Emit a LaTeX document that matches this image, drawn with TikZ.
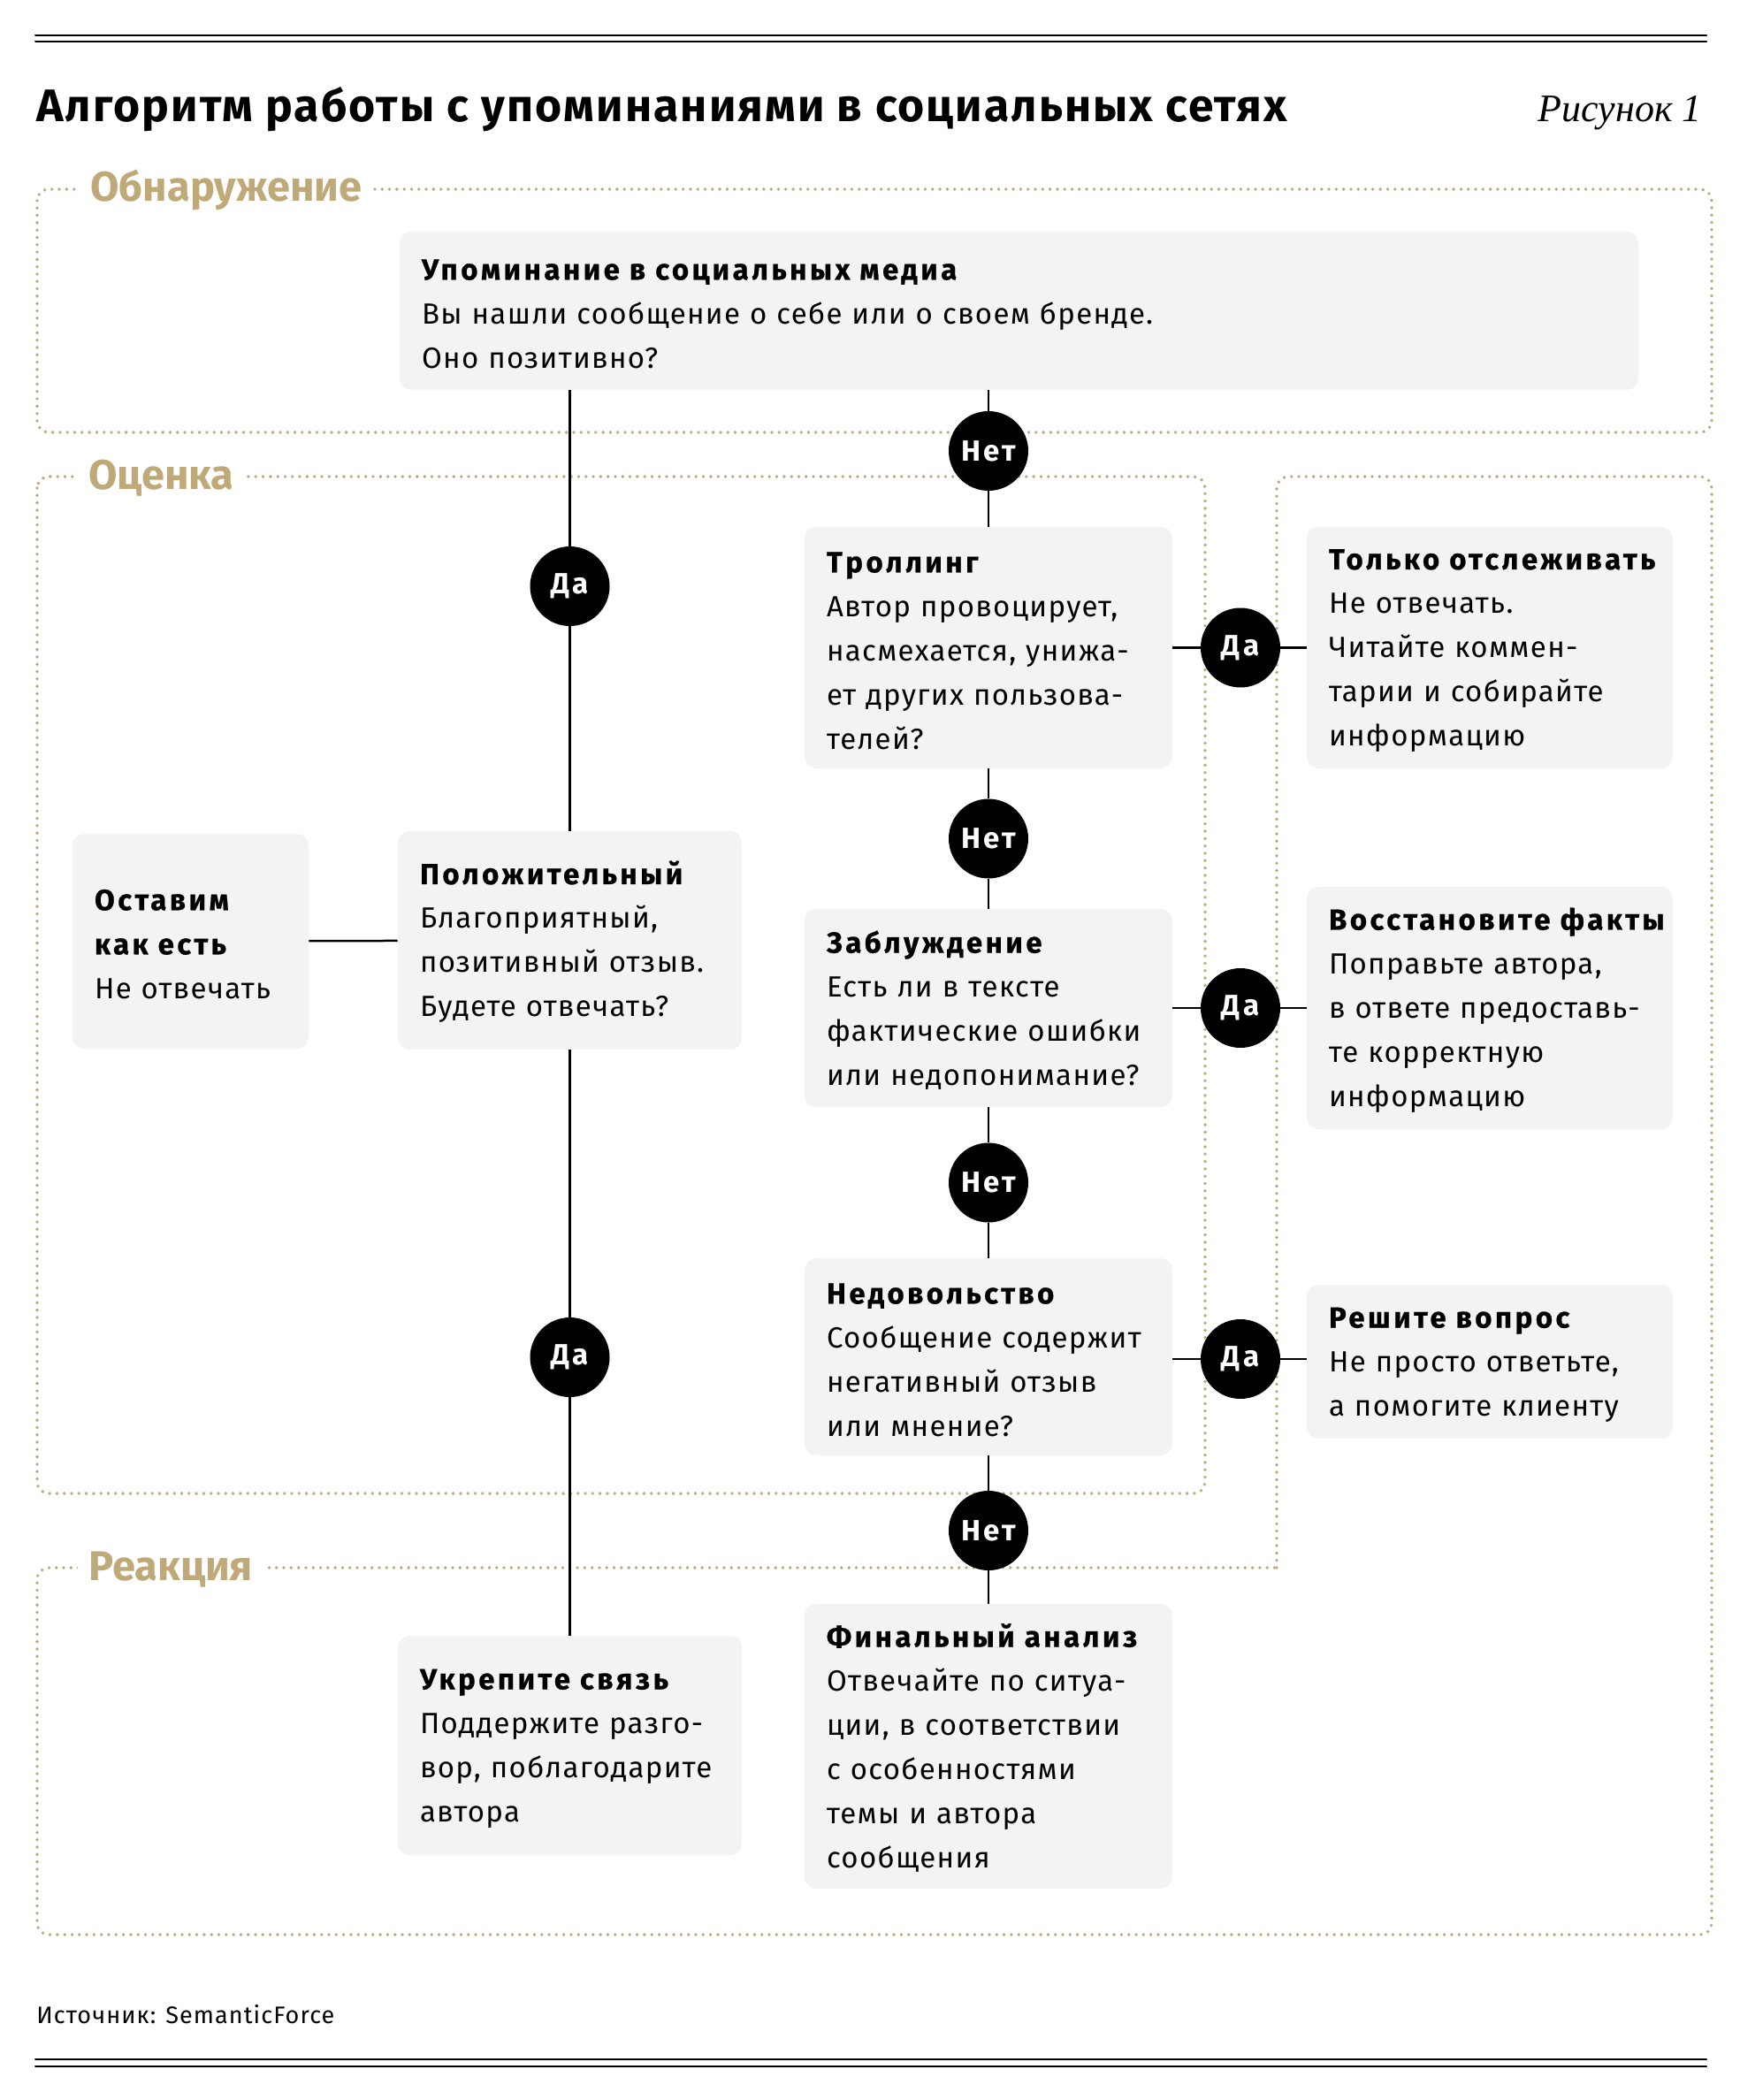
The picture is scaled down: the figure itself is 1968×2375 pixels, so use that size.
\documentclass[tikz,border=0pt]{standalone}
\usepackage{fontspec}
\setmainfont{Fira Sans}[LetterSpace=4]
\newfontfamily\figfont{Liberation Serif}
\usepackage{tikz}
\definecolor{gold}{HTML}{BFA979}
\definecolor{cardgray}{HTML}{F3F3F3}
\newcommand{\cardfont}{\fontsize{16.5pt}{25pt}\selectfont}
\newcommand{\cardhead}[1]{\mbox{\bfseries\addfontfeatures{LetterSpace=10.5,FakeBold=0.6}#1}}

\begin{document}
\begin{tikzpicture}[line cap=round,line join=round,x=0.5pt,y=-0.5pt,
	card/.style={fill=cardgray,rounded corners=6.5pt,align=left,inner xsep=12.5pt,inner ysep=0pt,text height=15pt,font=\cardfont},
	answer/.style={circle,fill=black,text=white,minimum size=45pt,inner sep=0pt,font=\cardfont\bfseries\addfontfeatures{LetterSpace=10}},
	region/.style={draw=gold,line width=1.9pt,dash pattern=on 0pt off 4.15pt,rounded corners=6.5pt},
	part/.style={fill=white,text=gold,inner xsep=6pt,inner ysep=2pt,anchor=base west,font=\fontsize{23.5pt}{28pt}\selectfont\bfseries\addfontfeatures{LetterSpace=0}},
	link/.style={line width=1.25pt,line cap=butt}]
	\useasboundingbox (0,0) rectangle (1968,2375);
	\draw[line width=1pt] (40,40) -- (1930,40);
	\draw[line width=1pt] (40,47) -- (1930,47);
	\node[anchor=base west,inner sep=0pt,font=\fontsize{25.8pt}{30pt}\selectfont\bfseries] (title) at (41,138) {Алгоритм работы с упоминаниями в социальных сетях};
	\node[anchor=base east,inner sep=0pt,font=\figfont\itshape\fontsize{22pt}{26pt}\selectfont] (fig) at (1925,138) {Рисунок 1};

	% areas
	\draw[region] (42,214) rectangle (1936,489);
	\draw[region] (42,539) rectangle (1363,1689);
	\draw[region] (1444,1773) -- (1444,539) -- (1936,539) -- (1936,2188) -- (42,2188) -- (42,1773) -- (1444,1773);
	\node[part] (detect) at (90,228) {Обнаружение};
	\node[part] (assess) at (88,553) {Оценка};
	\node[part] (react) at (88,1787) {Реакция};

	% cards
	\node[card,text width=675.5pt,minimum height=89.5pt] (mention) at (1152.5,351.5) {\cardhead{Упоминание в социальных медиа}\\Вы нашли сообщение о себе или о своем бренде.\\Оно позитивно?};
	\node[card,text width=183pt,minimum height=136.5pt] (troll) at (1118,732.5) {\cardhead{Троллинг}\\Автор провоцирует,\\насмехается, унижа-\\ет других пользова-\\телей?};
	\node[card,text width=183pt,minimum height=112pt] (confusion) at (1118,1140) {\cardhead{Заблуждение}\\Есть ли в тексте\\фактические ошибки\\или недопонимание?};
	\node[card,text width=183pt,minimum height=111.5pt] (discontent) at (1118,1534.5) {\cardhead{Недовольство}\\Сообщение содержит\\негативный отзыв\\или мнение?};
	\node[card,text width=183pt,minimum height=161pt] (final) at (1118,1975) {\cardhead{Финальный анализ}\\Отвечайте по ситуа-\\ции, в соответствии\\с особенностями\\темы и автора\\сообщения};
	\node[card,text width=169.5pt,minimum height=123.5pt] (positive) at (644.5,1063.5) {\cardhead{Положительный}\\Благоприятный,\\позитивный отзыв.\\Будете отвечать?};
	\node[card,text width=108.5pt,minimum height=121.5pt] (leave) at (215.5,1064.5) {\cardhead{Оставим}\\\cardhead{как есть}\\Не отвечать};
	\node[card,text width=169.5pt,minimum height=124pt] (strengthen) at (644.5,1974) {\cardhead{Укрепите связь}\\Поддержите разго-\\вор, поблагодарите\\автора};
	\node[card,text width=182pt,minimum height=136.5pt] (monitor) at (1685,732.5) {\cardhead{Только отслеживать}\\Не отвечать.\\Читайте коммен-\\тарии и собирайте\\информацию};
	\node[card,text width=182pt,minimum height=137pt] (facts) at (1685,1140) {\cardhead{Восстановите факты}\\Поправьте автора,\\в ответе предоставь-\\те корректную\\информацию};
	\node[card,text width=182pt,minimum height=87pt] (resolve) at (1685,1540) {\cardhead{Решите вопрос}\\Не просто ответьте,\\а помогите клиенту};

	% answers
	\node[answer] (net1) at (1118,510) {Нет};
	\node[answer] (net2) at (1118,948.5) {Нет};
	\node[answer] (net3) at (1118,1337.5) {Нет};
	\node[answer] (net4) at (1118,1731) {Нет};
	\node[answer] (daL1) at (644.5,663) {Да};
	\node[answer] (daL2) at (644.5,1535) {Да};
	\node[answer] (daR1) at (1403,732.5) {Да};
	\node[answer] (daR2) at (1403,1140) {Да};
	\node[answer] (daR3) at (1403,1537) {Да};

	\draw[link] (net1 |- mention.south) -- (net1) -- (troll);
	\draw[link] (daL1 |- mention.south) -- (daL1) -- (positive);
	\draw[link] (troll) -- (net2) -- (confusion);
	\draw[link] (confusion) -- (net3) -- (discontent);
	\draw[link] (discontent) -- (net4) -- (final);
	\draw[link] (troll) -- (daR1) -- (monitor);
	\draw[link] (confusion) -- (daR2) -- (facts);
	\draw[link] (daR3 -| discontent.east) -- (daR3) -- (daR3 -| resolve.west);
	\draw[link] (positive) -- (leave);
	\draw[link] (positive) -- (daL2) -- (strengthen);

	\node[anchor=base west,inner sep=0pt,font=\fontsize{13.5pt}{16pt}\selectfont] (source) at (41,2288) {Источник: SemanticForce};
	\draw[line width=1pt] (40,2329) -- (1930,2329);
	\draw[line width=1pt] (40,2337) -- (1930,2337);
\end{tikzpicture}
\end{document}
